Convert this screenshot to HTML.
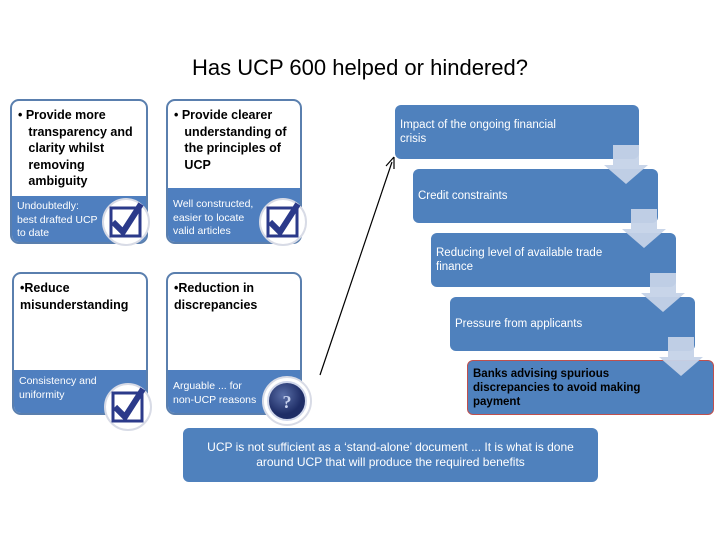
<!DOCTYPE html>
<html><head><style>
body{margin:0;width:720px;height:540px;background:#fff;position:relative;overflow:hidden;font-family:"Liberation Sans",sans-serif}
.a{position:absolute}
.card{position:absolute;background:#fff;border:2px solid #5a7fae;border-radius:9px;box-sizing:border-box;overflow:hidden}
.card .t{position:absolute;left:6px;top:6px;font-weight:bold;font-size:12.5px;line-height:16.5px;color:#000;white-space:nowrap}
.card .b{position:absolute;left:0;right:0;bottom:0;background:#4f7fbf;color:#fff;font-size:10.5px;line-height:13.5px;padding:4px 5px;box-sizing:border-box;white-space:nowrap}
.st{position:absolute;background:#4f81bd;border-radius:6px;color:#fff;font-size:11.5px;line-height:14px;padding-left:5px;box-sizing:border-box;display:flex;align-items:center}
</style></head><body>
<div class="a" style="left:0;width:720px;top:55px;text-align:center;font-size:22px;color:#000">Has UCP 600 helped or hindered?</div>

<div class="card" style="left:10px;top:99px;width:138px;height:145px"><div class="t">• Provide more<br>&nbsp;&nbsp;&nbsp;transparency and<br>&nbsp;&nbsp;&nbsp;clarity whilst<br>&nbsp;&nbsp;&nbsp;removing<br>&nbsp;&nbsp;&nbsp;ambiguity</div><div class="b" style="height:46px">Undoubtedly:<br>best drafted UCP<br>to date</div></div>
<div class="card" style="left:166px;top:99px;width:136px;height:145px"><div class="t">• Provide clearer<br>&nbsp;&nbsp;&nbsp;understanding of<br>&nbsp;&nbsp;&nbsp;the principles of<br>&nbsp;&nbsp;&nbsp;UCP</div><div class="b" style="height:54px;padding-top:10px">Well constructed,<br>easier to locate<br>valid articles</div></div>
<div class="card" style="left:12px;top:272px;width:136px;height:143px"><div class="t">•Reduce<br>misunderstanding</div><div class="b" style="height:43px;padding-top:5px">Consistency and<br>uniformity</div></div>
<div class="card" style="left:166px;top:272px;width:136px;height:143px"><div class="t">•Reduction in<br>discrepancies</div><div class="b" style="height:43px;padding-top:10px">Arguable ... for<br>non-UCP reasons</div></div>

<svg class="a" style="left:0;top:0" width="720" height="540">
<defs><radialGradient id="g" cx="0.4" cy="0.35"><stop offset="0" stop-color="#5a6fa8"/><stop offset="1" stop-color="#1e2d66"/></radialGradient></defs>
<g id="ck">
<circle cx="126" cy="222" r="23" fill="#fff" stroke="#d8dbe6" stroke-width="2"/>
<rect x="111" y="208" width="29" height="28" fill="none" stroke="#2b3a8a" stroke-width="3"/>
<path d="M113 222 L123 232 L141 204" fill="none" stroke="#2b3a8a" stroke-width="6"/>
</g>
<use href="#ck" x="157" y="0"/>
<use href="#ck" x="2" y="185"/>
<circle cx="287" cy="401" r="24" fill="#fff" stroke="#d8dbe6" stroke-width="2"/>
<circle cx="287" cy="401" r="19" fill="url(#g)" stroke="#cfd6ea" stroke-width="2"/>
<text x="287" y="408" text-anchor="middle" font-family="Liberation Serif" font-weight="bold" font-size="18" fill="#c8d2ee">?</text>
<line x1="320" y1="375" x2="392" y2="162" stroke="#000" stroke-width="1.2"/>
<path d="M394 157 L386 166 M394 157 L394 169" stroke="#000" stroke-width="1.2" fill="none"/>
</svg>

<div class="st" style="left:395px;top:105px;width:244px;height:54px">Impact of the ongoing financial<br>crisis</div>
<div class="st" style="left:413px;top:169px;width:245px;height:54px">Credit constraints</div>
<div class="st" style="left:431px;top:233px;width:245px;height:54px">Reducing level of available trade<br>finance</div>
<div class="st" style="left:450px;top:297px;width:245px;height:54px">Pressure from applicants</div>
<div class="st" style="left:467px;top:360px;width:247px;height:55px;border:1.5px solid #c0504d;color:#000;font-weight:bold;font-size:11.5px">Banks advising spurious<br>discrepancies to avoid making<br>payment</div>
<svg class="a" style="left:0;top:0" width="720" height="540">
<g fill="#c6d3e8" opacity="0.95">
<path d="M613 145 H639 V165 H648 L626 184 L604 165 H613Z"/>
<path d="M631 209 H657 V229 H666 L644 248 L622 229 H631Z"/>
<path d="M650 273 H676 V293 H685 L663 312 L641 293 H650Z"/>
<path d="M668 337 H694 V357 H703 L681 376 L659 357 H668Z"/>
</g></svg>

<div class="a" style="left:183px;top:428px;width:415px;height:54px;background:#4f81bd;border-radius:6px;color:#fff;font-size:12px;line-height:15px;text-align:center;display:flex;align-items:center;justify-content:center">UCP is not sufficient as a ‘stand-alone’ document ... It is what is done<br>around UCP that will produce the required benefits</div>
</body></html>
